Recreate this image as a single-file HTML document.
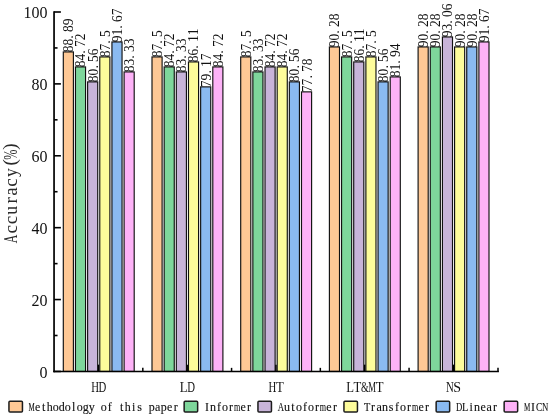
<!DOCTYPE html>
<html><head><meta charset="utf-8"><style>
html,body{margin:0;padding:0;background:#fff;width:550px;height:416px;overflow:hidden}
svg{display:block}
text{font-family:"Liberation Serif","Noto Serif CJK SC",serif}
</style></head><body>
<svg width="550" height="416" viewBox="0 0 550 416">
<rect x="63.30" y="51.93" width="10.1" height="319.52" fill="#FEC895" stroke="#111" stroke-width="1.15"/>
<rect x="75.46" y="66.92" width="10.1" height="304.53" fill="#7ED69B" stroke="#111" stroke-width="1.15"/>
<rect x="87.62" y="81.88" width="10.1" height="289.57" fill="#C8B4D9" stroke="#111" stroke-width="1.15"/>
<rect x="99.78" y="56.93" width="10.1" height="314.52" fill="#FDFC9B" stroke="#111" stroke-width="1.15"/>
<rect x="111.94" y="41.94" width="10.1" height="329.51" fill="#8ABAF1" stroke="#111" stroke-width="1.15"/>
<rect x="124.10" y="71.92" width="10.1" height="299.53" fill="#FDB2F7" stroke="#111" stroke-width="1.15"/>
<rect x="152.00" y="56.93" width="10.1" height="314.52" fill="#FEC895" stroke="#111" stroke-width="1.15"/>
<rect x="164.16" y="66.92" width="10.1" height="304.53" fill="#7ED69B" stroke="#111" stroke-width="1.15"/>
<rect x="176.32" y="71.92" width="10.1" height="299.53" fill="#C8B4D9" stroke="#111" stroke-width="1.15"/>
<rect x="188.48" y="61.93" width="10.1" height="309.52" fill="#FDFC9B" stroke="#111" stroke-width="1.15"/>
<rect x="200.64" y="86.87" width="10.1" height="284.58" fill="#8ABAF1" stroke="#111" stroke-width="1.15"/>
<rect x="212.80" y="66.92" width="10.1" height="304.53" fill="#FDB2F7" stroke="#111" stroke-width="1.15"/>
<rect x="240.70" y="56.93" width="10.1" height="314.52" fill="#FEC895" stroke="#111" stroke-width="1.15"/>
<rect x="252.86" y="71.92" width="10.1" height="299.53" fill="#7ED69B" stroke="#111" stroke-width="1.15"/>
<rect x="265.02" y="66.92" width="10.1" height="304.53" fill="#C8B4D9" stroke="#111" stroke-width="1.15"/>
<rect x="277.18" y="66.92" width="10.1" height="304.53" fill="#FDFC9B" stroke="#111" stroke-width="1.15"/>
<rect x="289.34" y="81.88" width="10.1" height="289.57" fill="#8ABAF1" stroke="#111" stroke-width="1.15"/>
<rect x="301.50" y="91.87" width="10.1" height="279.58" fill="#FDB2F7" stroke="#111" stroke-width="1.15"/>
<rect x="329.40" y="46.94" width="10.1" height="324.51" fill="#FEC895" stroke="#111" stroke-width="1.15"/>
<rect x="341.56" y="56.93" width="10.1" height="314.52" fill="#7ED69B" stroke="#111" stroke-width="1.15"/>
<rect x="353.72" y="61.93" width="10.1" height="309.52" fill="#C8B4D9" stroke="#111" stroke-width="1.15"/>
<rect x="365.88" y="56.93" width="10.1" height="314.52" fill="#FDFC9B" stroke="#111" stroke-width="1.15"/>
<rect x="378.04" y="81.88" width="10.1" height="289.57" fill="#8ABAF1" stroke="#111" stroke-width="1.15"/>
<rect x="390.20" y="76.92" width="10.1" height="294.53" fill="#FDB2F7" stroke="#111" stroke-width="1.15"/>
<rect x="418.10" y="46.94" width="10.1" height="324.51" fill="#FEC895" stroke="#111" stroke-width="1.15"/>
<rect x="430.26" y="46.94" width="10.1" height="324.51" fill="#7ED69B" stroke="#111" stroke-width="1.15"/>
<rect x="442.42" y="36.95" width="10.1" height="334.50" fill="#C8B4D9" stroke="#111" stroke-width="1.15"/>
<rect x="454.58" y="46.94" width="10.1" height="324.51" fill="#FDFC9B" stroke="#111" stroke-width="1.15"/>
<rect x="466.74" y="46.94" width="10.1" height="324.51" fill="#8ABAF1" stroke="#111" stroke-width="1.15"/>
<rect x="478.90" y="41.94" width="10.1" height="329.51" fill="#FDB2F7" stroke="#111" stroke-width="1.15"/>
<g transform="translate(73.30,52.33) rotate(-90)" font-size="14.3" fill="#111"><text transform="translate(3.38,0) scale(0.944,1)" text-anchor="middle">8</text><text transform="translate(10.12,0) scale(0.944,1)" text-anchor="middle">8</text><text x="15.49" text-anchor="middle">.</text><text transform="translate(23.62,0) scale(0.944,1)" text-anchor="middle">8</text><text transform="translate(30.38,0) scale(0.944,1)" text-anchor="middle">9</text></g>
<g transform="translate(85.46,67.32) rotate(-90)" font-size="14.3" fill="#111"><text transform="translate(3.38,0) scale(0.944,1)" text-anchor="middle">8</text><text transform="translate(10.12,0) scale(0.944,1)" text-anchor="middle">4</text><text x="15.49" text-anchor="middle">.</text><text transform="translate(23.62,0) scale(0.944,1)" text-anchor="middle">7</text><text transform="translate(30.38,0) scale(0.944,1)" text-anchor="middle">2</text></g>
<g transform="translate(97.62,82.28) rotate(-90)" font-size="14.3" fill="#111"><text transform="translate(3.38,0) scale(0.944,1)" text-anchor="middle">8</text><text transform="translate(10.12,0) scale(0.944,1)" text-anchor="middle">0</text><text x="15.49" text-anchor="middle">.</text><text transform="translate(23.62,0) scale(0.944,1)" text-anchor="middle">5</text><text transform="translate(30.38,0) scale(0.944,1)" text-anchor="middle">6</text></g>
<g transform="translate(109.78,57.33) rotate(-90)" font-size="14.3" fill="#111"><text transform="translate(3.38,0) scale(0.944,1)" text-anchor="middle">8</text><text transform="translate(10.12,0) scale(0.944,1)" text-anchor="middle">7</text><text x="15.49" text-anchor="middle">.</text><text transform="translate(23.62,0) scale(0.944,1)" text-anchor="middle">5</text></g>
<g transform="translate(121.94,42.34) rotate(-90)" font-size="14.3" fill="#111"><text transform="translate(3.38,0) scale(0.944,1)" text-anchor="middle">9</text><text transform="translate(10.12,0) scale(0.944,1)" text-anchor="middle">1</text><text x="15.49" text-anchor="middle">.</text><text transform="translate(23.62,0) scale(0.944,1)" text-anchor="middle">6</text><text transform="translate(30.38,0) scale(0.944,1)" text-anchor="middle">7</text></g>
<g transform="translate(134.10,72.32) rotate(-90)" font-size="14.3" fill="#111"><text transform="translate(3.38,0) scale(0.944,1)" text-anchor="middle">8</text><text transform="translate(10.12,0) scale(0.944,1)" text-anchor="middle">3</text><text x="15.49" text-anchor="middle">.</text><text transform="translate(23.62,0) scale(0.944,1)" text-anchor="middle">3</text><text transform="translate(30.38,0) scale(0.944,1)" text-anchor="middle">3</text></g>
<g transform="translate(162.00,57.33) rotate(-90)" font-size="14.3" fill="#111"><text transform="translate(3.38,0) scale(0.944,1)" text-anchor="middle">8</text><text transform="translate(10.12,0) scale(0.944,1)" text-anchor="middle">7</text><text x="15.49" text-anchor="middle">.</text><text transform="translate(23.62,0) scale(0.944,1)" text-anchor="middle">5</text></g>
<g transform="translate(174.16,67.32) rotate(-90)" font-size="14.3" fill="#111"><text transform="translate(3.38,0) scale(0.944,1)" text-anchor="middle">8</text><text transform="translate(10.12,0) scale(0.944,1)" text-anchor="middle">4</text><text x="15.49" text-anchor="middle">.</text><text transform="translate(23.62,0) scale(0.944,1)" text-anchor="middle">7</text><text transform="translate(30.38,0) scale(0.944,1)" text-anchor="middle">2</text></g>
<g transform="translate(186.32,72.32) rotate(-90)" font-size="14.3" fill="#111"><text transform="translate(3.38,0) scale(0.944,1)" text-anchor="middle">8</text><text transform="translate(10.12,0) scale(0.944,1)" text-anchor="middle">3</text><text x="15.49" text-anchor="middle">.</text><text transform="translate(23.62,0) scale(0.944,1)" text-anchor="middle">3</text><text transform="translate(30.38,0) scale(0.944,1)" text-anchor="middle">3</text></g>
<g transform="translate(198.48,62.33) rotate(-90)" font-size="14.3" fill="#111"><text transform="translate(3.38,0) scale(0.944,1)" text-anchor="middle">8</text><text transform="translate(10.12,0) scale(0.944,1)" text-anchor="middle">6</text><text x="15.49" text-anchor="middle">.</text><text transform="translate(23.62,0) scale(0.944,1)" text-anchor="middle">1</text><text transform="translate(30.38,0) scale(0.944,1)" text-anchor="middle">1</text></g>
<g transform="translate(210.64,87.27) rotate(-90)" font-size="14.3" fill="#111"><text transform="translate(3.38,0) scale(0.944,1)" text-anchor="middle">7</text><text transform="translate(10.12,0) scale(0.944,1)" text-anchor="middle">9</text><text x="15.49" text-anchor="middle">.</text><text transform="translate(23.62,0) scale(0.944,1)" text-anchor="middle">1</text><text transform="translate(30.38,0) scale(0.944,1)" text-anchor="middle">7</text></g>
<g transform="translate(222.80,67.32) rotate(-90)" font-size="14.3" fill="#111"><text transform="translate(3.38,0) scale(0.944,1)" text-anchor="middle">8</text><text transform="translate(10.12,0) scale(0.944,1)" text-anchor="middle">4</text><text x="15.49" text-anchor="middle">.</text><text transform="translate(23.62,0) scale(0.944,1)" text-anchor="middle">7</text><text transform="translate(30.38,0) scale(0.944,1)" text-anchor="middle">2</text></g>
<g transform="translate(250.70,57.33) rotate(-90)" font-size="14.3" fill="#111"><text transform="translate(3.38,0) scale(0.944,1)" text-anchor="middle">8</text><text transform="translate(10.12,0) scale(0.944,1)" text-anchor="middle">7</text><text x="15.49" text-anchor="middle">.</text><text transform="translate(23.62,0) scale(0.944,1)" text-anchor="middle">5</text></g>
<g transform="translate(262.86,72.32) rotate(-90)" font-size="14.3" fill="#111"><text transform="translate(3.38,0) scale(0.944,1)" text-anchor="middle">8</text><text transform="translate(10.12,0) scale(0.944,1)" text-anchor="middle">3</text><text x="15.49" text-anchor="middle">.</text><text transform="translate(23.62,0) scale(0.944,1)" text-anchor="middle">3</text><text transform="translate(30.38,0) scale(0.944,1)" text-anchor="middle">3</text></g>
<g transform="translate(275.02,67.32) rotate(-90)" font-size="14.3" fill="#111"><text transform="translate(3.38,0) scale(0.944,1)" text-anchor="middle">8</text><text transform="translate(10.12,0) scale(0.944,1)" text-anchor="middle">4</text><text x="15.49" text-anchor="middle">.</text><text transform="translate(23.62,0) scale(0.944,1)" text-anchor="middle">7</text><text transform="translate(30.38,0) scale(0.944,1)" text-anchor="middle">2</text></g>
<g transform="translate(287.18,67.32) rotate(-90)" font-size="14.3" fill="#111"><text transform="translate(3.38,0) scale(0.944,1)" text-anchor="middle">8</text><text transform="translate(10.12,0) scale(0.944,1)" text-anchor="middle">4</text><text x="15.49" text-anchor="middle">.</text><text transform="translate(23.62,0) scale(0.944,1)" text-anchor="middle">7</text><text transform="translate(30.38,0) scale(0.944,1)" text-anchor="middle">2</text></g>
<g transform="translate(299.34,82.28) rotate(-90)" font-size="14.3" fill="#111"><text transform="translate(3.38,0) scale(0.944,1)" text-anchor="middle">8</text><text transform="translate(10.12,0) scale(0.944,1)" text-anchor="middle">0</text><text x="15.49" text-anchor="middle">.</text><text transform="translate(23.62,0) scale(0.944,1)" text-anchor="middle">5</text><text transform="translate(30.38,0) scale(0.944,1)" text-anchor="middle">6</text></g>
<g transform="translate(311.50,92.27) rotate(-90)" font-size="14.3" fill="#111"><text transform="translate(3.38,0) scale(0.944,1)" text-anchor="middle">7</text><text transform="translate(10.12,0) scale(0.944,1)" text-anchor="middle">7</text><text x="15.49" text-anchor="middle">.</text><text transform="translate(23.62,0) scale(0.944,1)" text-anchor="middle">7</text><text transform="translate(30.38,0) scale(0.944,1)" text-anchor="middle">8</text></g>
<g transform="translate(339.40,47.34) rotate(-90)" font-size="14.3" fill="#111"><text transform="translate(3.38,0) scale(0.944,1)" text-anchor="middle">9</text><text transform="translate(10.12,0) scale(0.944,1)" text-anchor="middle">0</text><text x="15.49" text-anchor="middle">.</text><text transform="translate(23.62,0) scale(0.944,1)" text-anchor="middle">2</text><text transform="translate(30.38,0) scale(0.944,1)" text-anchor="middle">8</text></g>
<g transform="translate(351.56,57.33) rotate(-90)" font-size="14.3" fill="#111"><text transform="translate(3.38,0) scale(0.944,1)" text-anchor="middle">8</text><text transform="translate(10.12,0) scale(0.944,1)" text-anchor="middle">7</text><text x="15.49" text-anchor="middle">.</text><text transform="translate(23.62,0) scale(0.944,1)" text-anchor="middle">5</text></g>
<g transform="translate(363.72,62.33) rotate(-90)" font-size="14.3" fill="#111"><text transform="translate(3.38,0) scale(0.944,1)" text-anchor="middle">8</text><text transform="translate(10.12,0) scale(0.944,1)" text-anchor="middle">6</text><text x="15.49" text-anchor="middle">.</text><text transform="translate(23.62,0) scale(0.944,1)" text-anchor="middle">1</text><text transform="translate(30.38,0) scale(0.944,1)" text-anchor="middle">1</text></g>
<g transform="translate(375.88,57.33) rotate(-90)" font-size="14.3" fill="#111"><text transform="translate(3.38,0) scale(0.944,1)" text-anchor="middle">8</text><text transform="translate(10.12,0) scale(0.944,1)" text-anchor="middle">7</text><text x="15.49" text-anchor="middle">.</text><text transform="translate(23.62,0) scale(0.944,1)" text-anchor="middle">5</text></g>
<g transform="translate(388.04,82.28) rotate(-90)" font-size="14.3" fill="#111"><text transform="translate(3.38,0) scale(0.944,1)" text-anchor="middle">8</text><text transform="translate(10.12,0) scale(0.944,1)" text-anchor="middle">0</text><text x="15.49" text-anchor="middle">.</text><text transform="translate(23.62,0) scale(0.944,1)" text-anchor="middle">5</text><text transform="translate(30.38,0) scale(0.944,1)" text-anchor="middle">6</text></g>
<g transform="translate(400.20,77.32) rotate(-90)" font-size="14.3" fill="#111"><text transform="translate(3.38,0) scale(0.944,1)" text-anchor="middle">8</text><text transform="translate(10.12,0) scale(0.944,1)" text-anchor="middle">1</text><text x="15.49" text-anchor="middle">.</text><text transform="translate(23.62,0) scale(0.944,1)" text-anchor="middle">9</text><text transform="translate(30.38,0) scale(0.944,1)" text-anchor="middle">4</text></g>
<g transform="translate(428.10,47.34) rotate(-90)" font-size="14.3" fill="#111"><text transform="translate(3.38,0) scale(0.944,1)" text-anchor="middle">9</text><text transform="translate(10.12,0) scale(0.944,1)" text-anchor="middle">0</text><text x="15.49" text-anchor="middle">.</text><text transform="translate(23.62,0) scale(0.944,1)" text-anchor="middle">2</text><text transform="translate(30.38,0) scale(0.944,1)" text-anchor="middle">8</text></g>
<g transform="translate(440.26,47.34) rotate(-90)" font-size="14.3" fill="#111"><text transform="translate(3.38,0) scale(0.944,1)" text-anchor="middle">9</text><text transform="translate(10.12,0) scale(0.944,1)" text-anchor="middle">0</text><text x="15.49" text-anchor="middle">.</text><text transform="translate(23.62,0) scale(0.944,1)" text-anchor="middle">2</text><text transform="translate(30.38,0) scale(0.944,1)" text-anchor="middle">8</text></g>
<g transform="translate(452.42,37.35) rotate(-90)" font-size="14.3" fill="#111"><text transform="translate(3.38,0) scale(0.944,1)" text-anchor="middle">9</text><text transform="translate(10.12,0) scale(0.944,1)" text-anchor="middle">3</text><text x="15.49" text-anchor="middle">.</text><text transform="translate(23.62,0) scale(0.944,1)" text-anchor="middle">0</text><text transform="translate(30.38,0) scale(0.944,1)" text-anchor="middle">6</text></g>
<g transform="translate(464.58,47.34) rotate(-90)" font-size="14.3" fill="#111"><text transform="translate(3.38,0) scale(0.944,1)" text-anchor="middle">9</text><text transform="translate(10.12,0) scale(0.944,1)" text-anchor="middle">0</text><text x="15.49" text-anchor="middle">.</text><text transform="translate(23.62,0) scale(0.944,1)" text-anchor="middle">2</text><text transform="translate(30.38,0) scale(0.944,1)" text-anchor="middle">8</text></g>
<g transform="translate(476.74,47.34) rotate(-90)" font-size="14.3" fill="#111"><text transform="translate(3.38,0) scale(0.944,1)" text-anchor="middle">9</text><text transform="translate(10.12,0) scale(0.944,1)" text-anchor="middle">0</text><text x="15.49" text-anchor="middle">.</text><text transform="translate(23.62,0) scale(0.944,1)" text-anchor="middle">2</text><text transform="translate(30.38,0) scale(0.944,1)" text-anchor="middle">8</text></g>
<g transform="translate(488.90,42.34) rotate(-90)" font-size="14.3" fill="#111"><text transform="translate(3.38,0) scale(0.944,1)" text-anchor="middle">9</text><text transform="translate(10.12,0) scale(0.944,1)" text-anchor="middle">1</text><text x="15.49" text-anchor="middle">.</text><text transform="translate(23.62,0) scale(0.944,1)" text-anchor="middle">6</text><text transform="translate(30.38,0) scale(0.944,1)" text-anchor="middle">7</text></g>
<line x1="54.05" y1="11.15" x2="54.05" y2="372.2" stroke="#000" stroke-width="1.7"/>
<line x1="53.199999999999996" y1="371.45" x2="498.9" y2="371.45" stroke="#000" stroke-width="1.5"/>
<line x1="54.05" y1="371.45" x2="60.9" y2="371.45" stroke="#000" stroke-width="1.6"/>
<text x="47.6" y="377.85" font-size="16" text-anchor="end" fill="#111">0</text>
<line x1="54.05" y1="335.50" x2="57.55" y2="335.50" stroke="#000" stroke-width="1.6"/>
<line x1="54.05" y1="299.56" x2="60.9" y2="299.56" stroke="#000" stroke-width="1.6"/>
<text x="47.6" y="305.96" font-size="16" text-anchor="end" fill="#111">20</text>
<line x1="54.05" y1="263.62" x2="57.55" y2="263.62" stroke="#000" stroke-width="1.6"/>
<line x1="54.05" y1="227.67" x2="60.9" y2="227.67" stroke="#000" stroke-width="1.6"/>
<text x="47.6" y="234.07" font-size="16" text-anchor="end" fill="#111">40</text>
<line x1="54.05" y1="191.72" x2="57.55" y2="191.72" stroke="#000" stroke-width="1.6"/>
<line x1="54.05" y1="155.78" x2="60.9" y2="155.78" stroke="#000" stroke-width="1.6"/>
<text x="47.6" y="162.18" font-size="16" text-anchor="end" fill="#111">60</text>
<line x1="54.05" y1="119.83" x2="57.55" y2="119.83" stroke="#000" stroke-width="1.6"/>
<line x1="54.05" y1="83.89" x2="60.9" y2="83.89" stroke="#000" stroke-width="1.6"/>
<text x="47.6" y="90.29" font-size="16" text-anchor="end" fill="#111">80</text>
<line x1="54.05" y1="47.94" x2="57.55" y2="47.94" stroke="#000" stroke-width="1.6"/>
<line x1="54.05" y1="12.00" x2="60.9" y2="12.00" stroke="#000" stroke-width="1.6"/>
<text x="47.6" y="18.40" font-size="16" text-anchor="end" fill="#111">100</text>
<line x1="98.45" y1="371.45" x2="98.45" y2="364.65" stroke="#000" stroke-width="1.5"/>
<line x1="187.20" y1="371.45" x2="187.20" y2="364.65" stroke="#000" stroke-width="1.5"/>
<line x1="275.95" y1="371.45" x2="275.95" y2="364.65" stroke="#000" stroke-width="1.5"/>
<line x1="364.70" y1="371.45" x2="364.70" y2="364.65" stroke="#000" stroke-width="1.5"/>
<line x1="453.45" y1="371.45" x2="453.45" y2="364.65" stroke="#000" stroke-width="1.5"/>
<line x1="142.82" y1="371.45" x2="142.82" y2="367.85" stroke="#000" stroke-width="1.5"/>
<line x1="231.57" y1="371.45" x2="231.57" y2="367.85" stroke="#000" stroke-width="1.5"/>
<line x1="320.32" y1="371.45" x2="320.32" y2="367.85" stroke="#000" stroke-width="1.5"/>
<line x1="409.07" y1="371.45" x2="409.07" y2="367.85" stroke="#000" stroke-width="1.5"/>
<line x1="498.00" y1="371.45" x2="498.00" y2="367.85" stroke="#000" stroke-width="1.5"/>
<g transform="translate(91.35,391.9)" font-size="15.5" fill="#111"><text transform="translate(3.70,0) scale(0.694,1)" text-anchor="middle">H</text><text transform="translate(11.10,0) scale(0.694,1)" text-anchor="middle">D</text></g>
<g transform="translate(180.05,391.9)" font-size="15.5" fill="#111"><text transform="translate(3.70,0) scale(0.821,1)" text-anchor="middle">L</text><text transform="translate(11.10,0) scale(0.694,1)" text-anchor="middle">D</text></g>
<g transform="translate(268.75,391.9)" font-size="15.5" fill="#111"><text transform="translate(3.70,0) scale(0.694,1)" text-anchor="middle">H</text><text transform="translate(11.10,0) scale(0.821,1)" text-anchor="middle">T</text></g>
<g transform="translate(346.35,391.9)" font-size="15.5" fill="#111"><text transform="translate(3.70,0) scale(0.821,1)" text-anchor="middle">L</text><text transform="translate(11.10,0) scale(0.821,1)" text-anchor="middle">T</text><text transform="translate(18.50,0) scale(0.644,1)" text-anchor="middle">&amp;</text><text transform="translate(25.90,0) scale(0.564,1)" text-anchor="middle">M</text><text transform="translate(33.30,0) scale(0.821,1)" text-anchor="middle">T</text></g>
<g transform="translate(446.15,391.9)" font-size="15.5" fill="#111"><text transform="translate(3.70,0) scale(0.694,1)" text-anchor="middle">N</text><text transform="translate(11.10,0) scale(0.901,1)" text-anchor="middle">S</text></g>
<g transform="translate(17.2,243.5) rotate(-90)" font-size="19" fill="#2a2a2a"><text transform="translate(4.70,0) scale(0.634,1)" text-anchor="middle">A</text><text x="14.20" y="0" text-anchor="middle">c</text><text x="23.50" y="0" text-anchor="middle">c</text><text transform="translate(33.10,0) scale(0.915,1)" text-anchor="middle">u</text><text x="43.10" y="0" text-anchor="middle">r</text><text x="51.90" y="0" text-anchor="middle">a</text><text x="61.00" y="0" text-anchor="middle">c</text><text transform="translate(70.80,0) scale(0.915,1)" text-anchor="middle">y</text><text x="81.30" y="-1.6" text-anchor="middle">(</text><text transform="translate(88.90,0) scale(0.640,1)" text-anchor="middle">%</text><text x="96.90" y="-1.6" text-anchor="middle">)</text></g>
<rect x="8.95" y="401.2" width="13.5" height="10.8" rx="1" fill="#FEC895" stroke="#1c1c1c" stroke-width="1.5"/>
<g transform="translate(28.70,410.8)" font-size="12" fill="#111" stroke="#111" stroke-width="0.12"><text transform="translate(3.00,0) scale(0.590,1)" text-anchor="middle">M</text><text x="9.00" text-anchor="middle">e</text><text x="15.00" text-anchor="middle">t</text><text x="21.00" text-anchor="middle">h</text><text x="27.00" text-anchor="middle">o</text><text x="33.00" text-anchor="middle">d</text><text x="39.00" text-anchor="middle">o</text><text x="45.00" text-anchor="middle">l</text><text x="51.00" text-anchor="middle">o</text><text x="57.00" text-anchor="middle">g</text><text x="63.00" text-anchor="middle">y</text><text x="75.00" text-anchor="middle">o</text><text x="81.00" text-anchor="middle">f</text><text x="93.00" text-anchor="middle">t</text><text x="99.00" text-anchor="middle">h</text><text x="105.00" text-anchor="middle">i</text><text x="111.00" text-anchor="middle">s</text><text x="123.00" text-anchor="middle">p</text><text x="129.00" text-anchor="middle">a</text><text x="135.00" text-anchor="middle">p</text><text x="141.00" text-anchor="middle">e</text><text x="147.00" text-anchor="middle">r</text></g>
<rect x="184.15" y="401.2" width="13.5" height="10.8" rx="1" fill="#7ED69B" stroke="#1c1c1c" stroke-width="1.5"/>
<g transform="translate(204.10,410.8)" font-size="12" fill="#111" stroke="#111" stroke-width="0.12"><text x="3.00" text-anchor="middle">I</text><text x="9.00" text-anchor="middle">n</text><text x="15.00" text-anchor="middle">f</text><text x="21.00" text-anchor="middle">o</text><text x="27.00" text-anchor="middle">r</text><text transform="translate(33.00,0) scale(0.675,1)" text-anchor="middle">m</text><text x="39.00" text-anchor="middle">e</text><text x="45.00" text-anchor="middle">r</text></g>
<rect x="257.95" y="401.2" width="13.5" height="10.8" rx="1" fill="#C8B4D9" stroke="#1c1c1c" stroke-width="1.5"/>
<g transform="translate(277.90,410.8)" font-size="12" fill="#111" stroke="#111" stroke-width="0.12"><text transform="translate(3.00,0) scale(0.727,1)" text-anchor="middle">A</text><text x="9.00" text-anchor="middle">u</text><text x="15.00" text-anchor="middle">t</text><text x="21.00" text-anchor="middle">o</text><text x="27.00" text-anchor="middle">f</text><text x="33.00" text-anchor="middle">o</text><text x="39.00" text-anchor="middle">r</text><text transform="translate(45.00,0) scale(0.675,1)" text-anchor="middle">m</text><text x="51.00" text-anchor="middle">e</text><text x="57.00" text-anchor="middle">r</text></g>
<rect x="343.95" y="401.2" width="13.5" height="10.8" rx="1" fill="#FDFC9B" stroke="#1c1c1c" stroke-width="1.5"/>
<g transform="translate(364.10,410.8)" font-size="12" fill="#111" stroke="#111" stroke-width="0.12"><text transform="translate(3.00,0) scale(0.859,1)" text-anchor="middle">T</text><text x="9.00" text-anchor="middle">r</text><text x="15.00" text-anchor="middle">a</text><text x="21.00" text-anchor="middle">n</text><text x="27.00" text-anchor="middle">s</text><text x="33.00" text-anchor="middle">f</text><text x="39.00" text-anchor="middle">o</text><text x="45.00" text-anchor="middle">r</text><text transform="translate(51.00,0) scale(0.675,1)" text-anchor="middle">m</text><text x="57.00" text-anchor="middle">e</text><text x="63.00" text-anchor="middle">r</text></g>
<rect x="436.15" y="401.2" width="13.5" height="10.8" rx="1" fill="#8ABAF1" stroke="#1c1c1c" stroke-width="1.5"/>
<g transform="translate(456.10,410.8)" font-size="12" fill="#111" stroke="#111" stroke-width="0.12"><text transform="translate(3.00,0) scale(0.727,1)" text-anchor="middle">D</text><text transform="translate(9.00,0) scale(0.859,1)" text-anchor="middle">L</text><text x="15.00" text-anchor="middle">i</text><text x="21.00" text-anchor="middle">n</text><text x="27.00" text-anchor="middle">e</text><text x="33.00" text-anchor="middle">a</text><text x="39.00" text-anchor="middle">r</text></g>
<rect x="504.15" y="401.2" width="13.5" height="10.8" rx="1" fill="#FDB2F7" stroke="#1c1c1c" stroke-width="1.5"/>
<g transform="translate(524.10,410.8)" font-size="12" fill="#111" stroke="#111" stroke-width="0.12"><text transform="translate(3.00,0) scale(0.590,1)" text-anchor="middle">M</text><text x="9.00" text-anchor="middle">I</text><text transform="translate(15.00,0) scale(0.787,1)" text-anchor="middle">C</text><text transform="translate(21.00,0) scale(0.727,1)" text-anchor="middle">N</text></g>
</svg></body></html>
